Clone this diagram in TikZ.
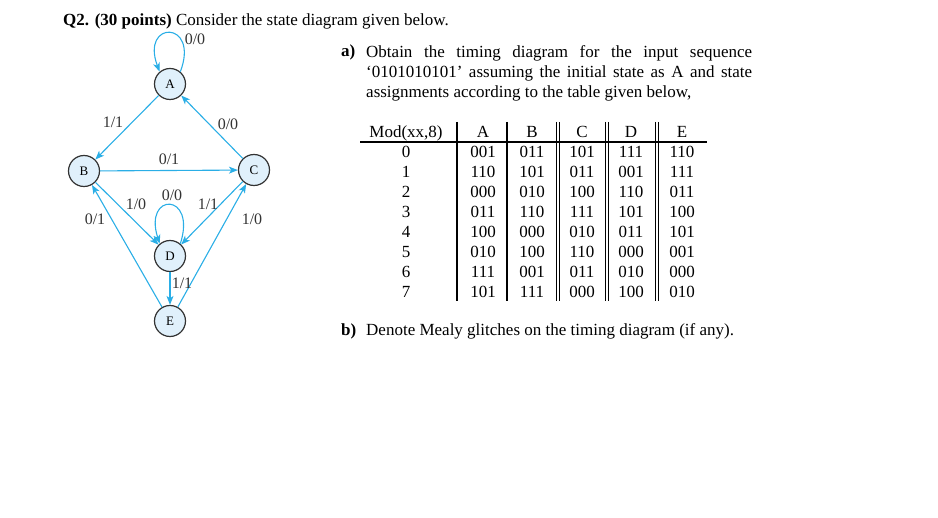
\documentclass[tikz,border=0pt]{standalone}
\usepackage{fontspec}
\setmainfont{Liberation Serif}
\usetikzlibrary{arrows.meta}
\definecolor{arcblue}{HTML}{2AAEE6}
\definecolor{statefill}{HTML}{E0F0FB}
\tikzset{
	state/.style={circle,draw=black!80,line width=1.2pt,fill=statefill,minimum size=31pt,inner sep=0pt,font=\fontsize{13}{13}\selectfont},
	arc/.style={draw=arcblue,line width=1.1pt,-{Stealth[length=9pt,width=7pt,inset=2.5pt]}},
	lbl/.style={inner sep=0pt,text=black!80,font=\fontsize{16}{16}\selectfont},
	txt/.style={inner sep=0pt,anchor=base west,font=\fontsize{17}{20}\selectfont},
	cell/.style={inner sep=0pt,anchor=base,font=\fontsize{17}{17}\selectfont},
}
\begin{document}
\begin{tikzpicture}[x=1pt,y=-1pt]
	\useasboundingbox (0,0) rectangle (938,518);
	\node[txt] (title) at (63,26) {\textbf{Q2. (30 points)} Consider the state diagram given below.};
	\node[state] (A) at (170,84) {A};
	\node[state] (B) at (84,171) {B};
	\node[state] (C) at (254,170) {C};
	\node[state] (D) at (170,256) {D};
	\node[state] (E) at (170,321) {E};
	\draw[arc] (A.50) .. controls (200,20) and (140,20) .. (A.130);
	\draw[arc] (D.50) .. controls (197,192) and (143,192) .. (D.130);
	\draw[arc] (A) -- (B);
	\draw[arc] (C) -- (A);
	\draw[arc] (B) -- (C);
	\draw[arc] (B) -- (D);
	\draw[arc] (C) -- (D);
	\draw[arc] (D) -- (E);
	\draw[arc] (E) -- (B);
	\draw[arc] (E) -- (C);
	\node[lbl] (lAA) at (195,39) {0/0};
	\node[lbl] (lAB) at (113,122) {1/1};
	\node[lbl] (lCA) at (228,124) {0/0};
	\node[lbl] (lBC) at (169,159) {0/1};
	\node[lbl] (lBD) at (136,204) {1/0};
	\node[lbl] (lDD) at (172,195) {0/0};
	\node[lbl] (lCD) at (208,204) {1/1};
	\node[lbl] (lEB) at (95,219) {0/1};
	\node[lbl] (lEC) at (252,219) {1/0};
	\node[lbl] (lDE) at (182,283) {1/1};
	\node[txt] (qa) at (341,57) {\textbf{a)}};
	\node[txt,anchor=north west,text width=386pt,align=justify] (qatext) at (366,45.5) {Obtain the timing diagram for the input sequence\linebreak `0101010101' assuming the initial state as A and state\linebreak assignments according to the table given below,};
	\node[cell] (hmod) at (406,138) {Mod(xx,8)};
	\foreach \h/\x in {A/483,B/532,C/582,D/631,E/682}
		\node[cell] (h\h) at (\x,138) {\h};
	\foreach \a/\b/\c/\d/\e [count=\i from 0] in {001/011/101/111/110,110/101/011/001/111,000/010/100/110/011,011/110/111/101/100,100/000/010/011/101,010/100/110/000/001,111/001/011/010/000,101/111/000/100/010}{
		\node[cell] (m\i) at (406,158+19.9*\i) {\i};
		\node[cell] (a\i) at (483,158+19.9*\i) {\a};
		\node[cell] (b\i) at (532,158+19.9*\i) {\b};
		\node[cell] (c\i) at (582,158+19.9*\i) {\c};
		\node[cell] (d\i) at (631,158+19.9*\i) {\d};
		\node[cell] (e\i) at (682,158+19.9*\i) {\e};
	}
	\draw[line width=1.6pt] (360,142) -- (707,142);
	\draw[line width=1.6pt] (457,122) -- (457,301);
	\draw[line width=1.3pt] (507,122) -- (507,301);
	\foreach \x in {556,605,655}{
		\draw[line width=0.8pt] (\x,122) -- (\x,301);
		\draw[line width=0.8pt] (\x+3,122) -- (\x+3,301);
	}
	\node[txt] (qb) at (341,336) {\textbf{b)}};
	\node[txt] (qbtext) at (366,336) {Denote Mealy glitches on the timing diagram (if any).};
\end{tikzpicture}
\end{document}
